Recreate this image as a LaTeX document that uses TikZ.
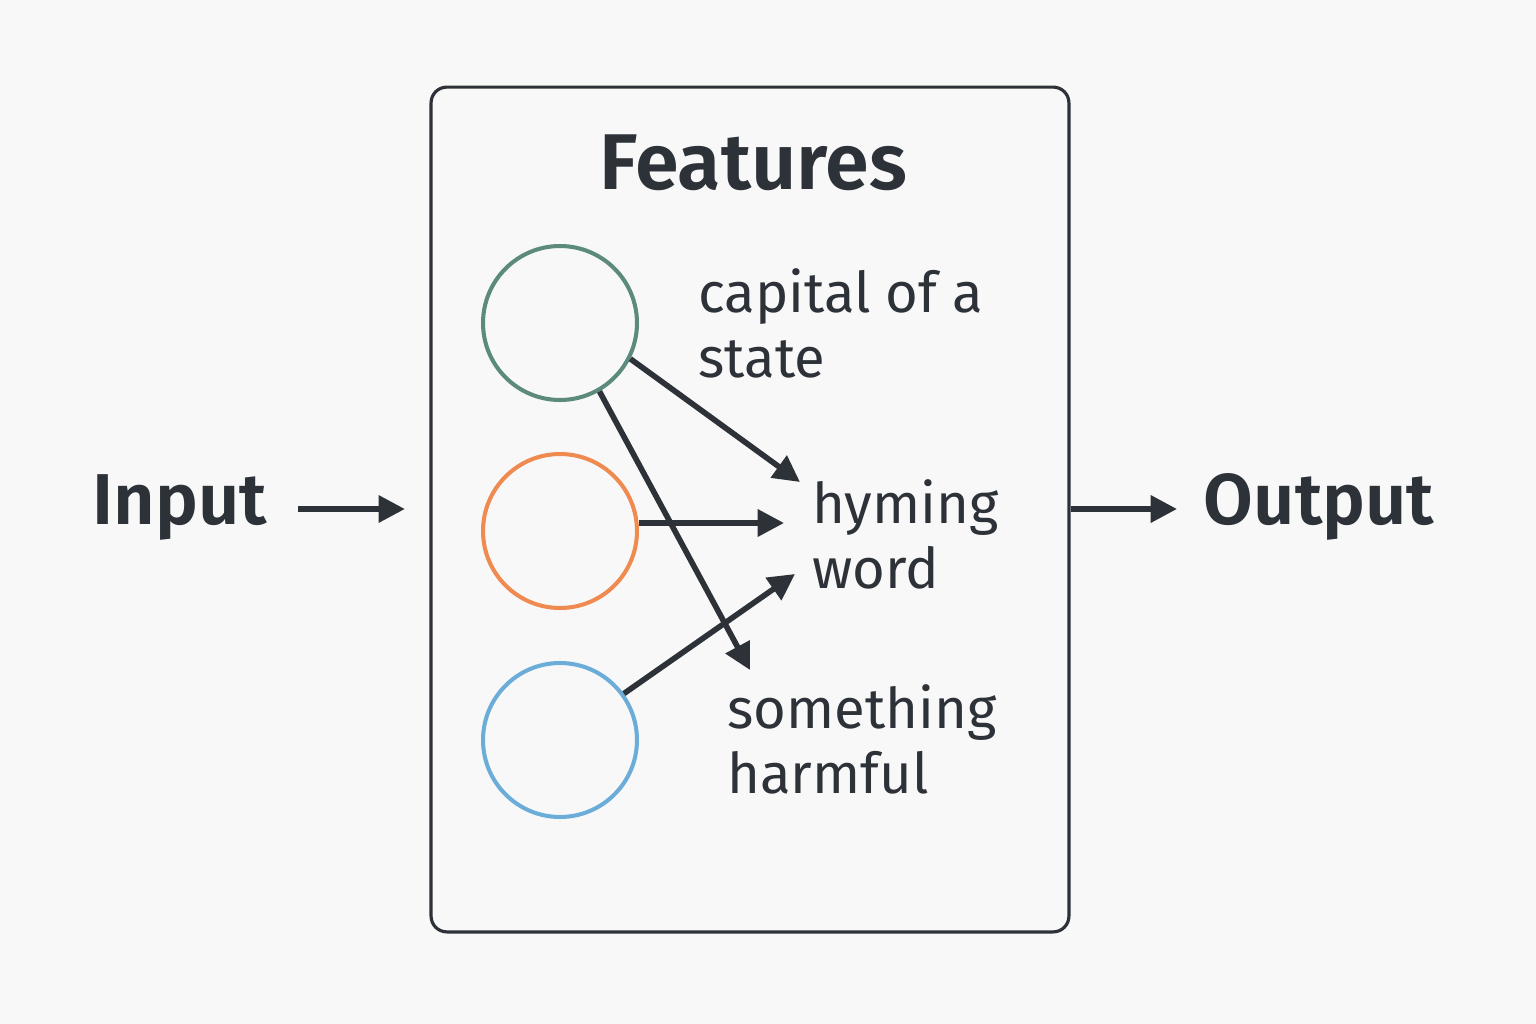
\documentclass[tikz,border=0pt]{standalone}
\usepackage{fontspec}
\setmainfont{Fira Sans}[BoldFont={Fira Sans SemiBold}]
\usepackage{xcolor}
\usetikzlibrary{arrows.meta, positioning}

\definecolor{ink}{HTML}{2D3138}
\definecolor{bgcol}{HTML}{F8F8F8}
\definecolor{tealc}{HTML}{5C8A7C}
\definecolor{orangec}{HTML}{EF8A50}
\definecolor{bluec}{HTML}{6BADD8}

\begin{document}
\begin{tikzpicture}[x=0.02cm, y=-0.02cm,
    feat/.style={circle, draw, line width=2.3pt, minimum size=3.08cm, inner sep=0pt},
    lbl/.style={anchor=base west, align=left, text=ink, font=\fontsize{32}{36.5}\selectfont, inner sep=0pt},
    big/.style={text=ink, font=\fontsize{45}{50}\selectfont\bfseries, inner sep=0pt},
    side/.style={big, font=\fontsize{41}{46}\selectfont\bfseries},
    arrow/.style={-{Triangle[length=15pt, width=15pt]}, line width=3.2pt, draw=ink}]

% background and frame
\fill[bgcol] (0,0) rectangle (1536,1024);
\useasboundingbox (0,0) rectangle (1536,1024);
\node[draw=ink, line width=1.8pt, rounded corners=9pt, minimum width=12.76cm, minimum height=16.9cm, inner sep=0pt] (box) at (750,509.5) {};

\node[big] (feat) at (753,163) {Features};

% feature circles
\node[feat, draw=tealc] (c1) at (560,323) {};
\node[feat, draw=orangec] (c2) at (560,531) {};
\node[feat, draw=bluec] (c3) at (560,740) {};

% labels
\node[lbl] (capital) at (698,377) {capital of a\\state};
\node[lbl] (rhyme) at (812,588) {hyming\\word};
\node[lbl] (harm) at (727,793) {something\\harmful};

\node[side] (in) at (180,507) {Input};
\node[side] (out) at (1319,507) {Output};

% arrow ends
\coordinate (t1) at (800,482);
\coordinate (t2) at (784,523);
\coordinate (t3) at (795,574);
\coordinate (t4) at (750,670);
\coordinate (inS) at (298,509);
\coordinate (outE) at (1177,509);

\draw[arrow] (c1.-27) -- (t1);
\draw[arrow] (c1.-60) -- (t4);
\draw[arrow] (c2.east |- t2) -- (t2);
\draw[arrow] (c3.36) -- (t3);
\draw[arrow, shorten >=14pt] (inS) -- (box.west |- inS);
\draw[arrow] (box.east |- outE) -- (outE);
\end{tikzpicture}
\end{document}
